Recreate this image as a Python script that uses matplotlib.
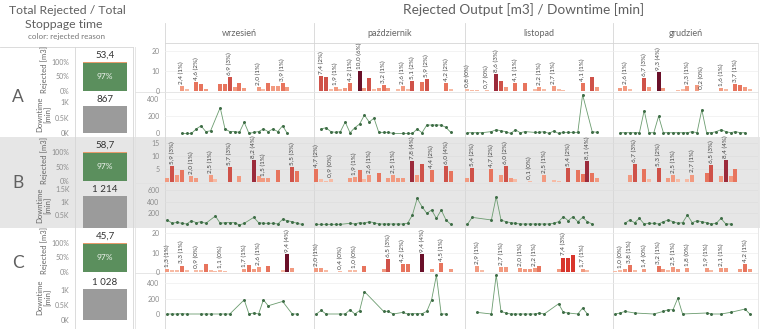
import matplotlib
matplotlib.use("Agg")
import matplotlib.pyplot as plt
from matplotlib.patches import Rectangle
from matplotlib.lines import Line2D

plt.rcParams['font.family'] = ['Lato', 'DejaVu Sans']

# ---------------------------------------------------------------- data
months = ["wrzesień", "październik", "listopad", "grudzień"]
row_names = ["A", "B", "C"]

total_rejected = [53.4, 58.7, 45.7]      # m3
main_reason_pct = [97, 97, 97]           # share of the main rejected reason
total_downtime = [867, 1214, 1028]       # min

# rejected output per day: (day, m3)
rej_A_wrz = [(4, 2.4), (5, 1.0), (7, 4.6), (8, 3.5), (9, 1.2), (12, 3.4), (13, 3.5), (14, 6.9),
             (15, 2.0), (16, 4.0), (17, 1.5), (20, 2.0), (21, 0.8), (22, 4.0), (23, 2.6), (24, 2.4),
             (25, 3.9), (26, 1.8)]
rej_A_paz = [(2, 7.4), (3, 7.0), (4, 1.0), (5, 1.9), (6, 0.8), (7, 1.5), (8, 4.2), (10, 10.0),
             (11, 1.5), (12, 6.5), (13, 1.0), (14, 1.5), (15, 3.2), (16, 1.5), (18, 1.0), (19, 2.6),
             (20, 1.0), (21, 5.1), (23, 4.5), (24, 5.9), (28, 4.2), (29, 1.0)]
rej_A_lis = [(1, 0.8), (2, 0.3), (3, 0.3), (5, 0.7), (7, 8.6), (8, 5.2), (9, 2.0), (11, 4.1),
             (13, 4.0), (15, 1.0), (16, 2.2), (17, 1.0), (19, 2.7), (20, 0.8), (21, 0.5), (25, 4.1),
             (27, 6.9), (28, 2.0)]
rej_A_gru = [(2, 1.5), (3, 2.6), (4, 1.0), (7, 6.7), (8, 2.0), (10, 9.3), (11, 1.5), (14, 0.5),
             (15, 1.0), (16, 2.3), (18, 2.8), (19, 0.2), (23, 1.6), (24, 1.0), (26, 3.7), (27, 3.0),
             (28, 2.0), (29, 1.0)]

rej_B_wrz = [(1, 1.5), (2, 5.9), (3, 2.5), (4, 4.5), (6, 2.0), (7, 1.5), (10, 2.5), (11, 1.0),
             (14, 5.7), (16, 2.0), (19, 8.2), (20, 2.0), (21, 1.5), (22, 1.5), (24, 4.5), (27, 5.5),
             (28, 4.2)]
rej_B_paz = [(1, 4.7), (2, 1.0), (3, 0.3), (4, 0.9), (8, 1.5), (9, 1.9), (10, 4.3), (11, 1.0),
             (12, 2.6), (14, 3.5), (16, 1.5), (17, 2.5), (18, 1.5), (19, 1.5), (21, 7.8), (22, 2.5),
             (23, 7.0), (25, 4.4), (28, 6.0), (29, 4.0)]
rej_B_lis = [(1, 1.5), (2, 5.4), (6, 4.7), (8, 2.5), (9, 6.0), (10, 1.5), (11, 1.0), (14, 0.1),
             (17, 2.5), (19, 0.5), (20, 0.3), (22, 5.4), (24, 4.5), (25, 3.0), (26, 8.1), (27, 3.5),
             (28, 1.5)]
rej_B_gru = [(4, 2.5), (5, 6.7), (7, 4.8), (8, 1.0), (10, 5.3), (12, 1.5), (13, 2.5), (14, 1.0),
             (16, 1.0), (17, 2.7), (20, 3.5), (21, 6.5), (23, 2.0), (24, 8.4), (25, 2.0), (26, 4.8)]

rej_C_wrz = [(1, 1.3), (2, 1.0), (3, 1.0), (4, 3.3), (5, 0.8), (7, 0.9), (8, 1.0), (9, 4.2),
             (10, 1.0), (11, 0.5), (12, 1.1), (13, 0.5), (17, 1.7), (18, 3.6), (19, 1.5), (20, 2.6),
             (22, 3.0), (25, 1.0), (26, 9.4), (27, 2.0)]
rej_C_paz = [(1, 2.0), (2, 2.0), (3, 1.0), (6, 0.4), (8, 1.0), (9, 1.0), (11, 3.0), (15, 1.5),
             (16, 6.5), (19, 4.2), (20, 4.0), (23, 9.4), (25, 1.5), (27, 4.5), (29, 1.5)]
rej_C_lis = [(3, 2.9), (4, 1.0), (8, 2.7), (9, 2.7), (12, 2.0), (13, 1.5), (14, 1.5), (15, 2.2),
             (16, 3.0), (20, 1.5), (21, 7.4), (22, 7.4), (23, 8.6), (25, 1.7), (26, 0.8)]
rej_C_gru = [(1, 0.5), (2, 1.0), (3, 1.5), (4, 3.8), (5, 1.0), (7, 1.4), (10, 3.2), (11, 1.5),
             (12, 1.0), (13, 2.5), (14, 1.5), (16, 1.8), (20, 1.9), (21, 1.0), (23, 2.1), (24, 2.0),
             (27, 1.5), (28, 4.2), (29, 1.5)]

# days whose rejects come from the separate "red" reason
red_reason_C_lis = [21, 22, 23]

# labelled days: (day, share of output in %)
lab_A_wrz = [(4, 1), (7, 2), (14, 3), (20, 1), (25, 1)]
lab_A_paz = [(2, 2), (5, 1), (8, 1), (10, 6), (15, 1), (19, 1), (21, 2), (24, 2), (28, 2)]
lab_A_lis = [(1, 0), (5, 0), (7, 3), (11, 1), (16, 1), (19, 1), (25, 1)]
lab_A_gru = [(3, 1), (7, 3), (10, 4), (16, 1), (19, 0), (23, 1), (26, 1)]
lab_B_wrz = [(2, 3), (6, 1), (10, 1), (14, 3), (19, 4), (21, 1), (27, 3)]
lab_B_paz = [(1, 2), (4, 0), (9, 1), (12, 1), (17, 1), (21, 4), (25, 2), (28, 4)]
lab_B_lis = [(2, 2), (6, 2), (9, 2), (14, 0), (17, 1), (22, 2), (26, 4)]
lab_B_gru = [(5, 3), (10, 2), (13, 1), (17, 1), (21, 3), (24, 4)]
lab_C_wrz = [(1, 1), (4, 1), (7, 0), (12, 0), (17, 1), (20, 1), (26, 4)]
lab_C_paz = [(1, 1), (6, 0), (9, 0), (16, 3), (19, 2), (23, 4), (27, 1)]
lab_C_lis = [(3, 1), (8, 1), (12, 1), (15, 1), (21, 3), (25, 1)]
lab_C_gru = [(2, 0), (4, 1), (7, 0), (10, 1), (13, 1), (16, 0), (20, 1), (23, 1), (28, 1)]

# downtime per day: (day, min)
dt_A_wrz = [(4, 0), (5, 0), (6, 0), (7, 53), (8, 89), (9, 22), (10, 31), (12, 300), (13, 53),
            (14, 22), (15, 22), (16, 13), (17, 130), (18, 0), (19, 13), (20, 22), (21, 53), (22, 22),
            (23, 53), (24, 22), (25, 90), (26, 0)]
dt_A_paz = [(2, 53), (3, 67), (4, 22), (5, 13), (6, 22), (7, 133), (8, 9), (9, 67), (10, 110),
            (11, 213), (12, 133), (13, 178), (14, 13), (15, 13), (16, 13), (17, 0), (19, 0), (20, 0),
            (21, 0), (22, 53), (23, 9), (24, 98), (25, 98), (26, 98), (27, 98), (28, 70), (29, 13)]
dt_A_lis = [(1, 9), (2, 9), (3, 9), (4, 9), (6, 22), (7, 44), (8, 31), (9, 22), (10, 0), (11, 44),
            (12, 9), (13, 22), (15, 13), (16, 13), (17, 22), (18, 0), (19, 31), (20, 0), (21, 13),
            (22, 13), (23, 13), (24, 13), (25, 450), (27, 22), (28, 13)]
dt_A_gru = [(2, 9), (3, 9), (4, 9), (5, 9), (6, 9), (7, 266), (8, 9), (9, 9), (10, 200), (11, 9),
            (12, 9), (13, 9), (14, 9), (15, 9), (16, 9), (17, 22), (18, 9), (19, 275), (20, 9),
            (21, 9), (22, 22), (23, 44), (24, 22), (25, 9), (26, 22), (27, 9), (28, 9)]

dt_B_wrz = [(1, 86), (2, 29), (3, 46), (4, 29), (5, 17), (6, 74), (7, 40), (8, 57), (9, 29),
            (11, 154), (12, 29), (13, 40), (14, 40), (15, 40), (16, 0), (17, 29), (19, 131), (20, 40),
            (21, 29), (22, 29), (23, 29), (24, 17), (25, 97), (26, 74), (27, 57), (28, 29), (29, 11)]
dt_B_paz = [(1, 11), (2, 11), (3, 11), (4, 11), (5, 11), (6, 11), (8, 29), (9, 17), (10, 40),
            (11, 29), (12, 57), (13, 40), (14, 17), (15, 17), (16, 17), (17, 17), (18, 17), (19, 17),
            (20, 29), (21, 171), (22, 457), (23, 314), (24, 200), (25, 257), (26, 114), (27, 257),
            (28, 86), (29, 11)]
dt_B_lis = [(1, 11), (2, 131), (6, 86), (7, 484), (8, 86), (9, 57), (10, 40), (11, 29), (12, 17),
            (13, 17), (14, 17), (15, 17), (16, 17), (17, 17), (18, 17), (19, 29), (20, 57), (21, 143),
            (22, 74), (23, 143), (24, 57), (25, 131), (26, 57), (27, 17)]
dt_B_gru = [(3, 29), (4, 86), (5, 40), (6, 114), (7, 17), (8, 29), (9, 29), (10, 17), (11, 57),
            (12, 86), (13, 57), (14, 29), (15, 40), (16, 171), (17, 40), (18, 74), (19, 57), (20, 40),
            (21, 17), (22, 29), (23, 114), (24, 17), (25, 17)]

dt_C_wrz = [(1, 0), (2, 0), (3, 0), (4, 4), (5, 0), (8, 0), (9, 0), (10, 0), (12, 0), (13, 0),
            (14, 0), (17, 183), (18, 0), (19, 13), (20, 0), (21, 183), (22, 106), (25, 162), (27, 0),
            (28, 0)]
dt_C_paz = [(1, 0), (2, 47), (3, 0), (6, 0), (7, 0), (8, 55), (9, 0), (10, 43), (11, 290), (15, 34),
            (16, 34), (17, 0), (19, 21), (20, 0), (21, 4), (22, 4), (23, 4), (24, 34), (25, 183),
            (26, 500), (27, 0), (28, 0)]
dt_C_lis = [(3, 21), (6, 0), (7, 503), (8, 34), (9, 13), (10, 0), (11, 0), (12, 0), (13, 0), (14, 0),
            (15, 0), (16, 13), (17, 0), (20, 132), (21, 21), (22, 13), (24, 0), (25, 77), (26, 0)]
dt_C_gru = [(1, 0), (2, 13), (3, 34), (5, 13), (9, 0), (11, 34), (12, 55), (13, 55), (14, 204),
            (15, 0), (20, 13), (21, 0), (23, 0), (25, 21), (28, 64), (29, 0)]

rej_ticks = [[0, 10, 20], [5, 10, 15], [0, 10, 20]]
dt_ticks = [[0, 200, 400], [200, 400, 600], [0, 200, 400]]
sum_dt_ticks = [[0, 500, 1000], [500, 1000, 1500], [0, 500, 1000]]

rej_tables = {"A": [rej_A_wrz, rej_A_paz, rej_A_lis, rej_A_gru],
              "B": [rej_B_wrz, rej_B_paz, rej_B_lis, rej_B_gru],
              "C": [rej_C_wrz, rej_C_paz, rej_C_lis, rej_C_gru]}
lab_tables = {"A": [lab_A_wrz, lab_A_paz, lab_A_lis, lab_A_gru],
              "B": [lab_B_wrz, lab_B_paz, lab_B_lis, lab_B_gru],
              "C": [lab_C_wrz, lab_C_paz, lab_C_lis, lab_C_gru]}
dt_tables = {"A": [dt_A_wrz, dt_A_paz, dt_A_lis, dt_A_gru],
             "B": [dt_B_wrz, dt_B_paz, dt_B_lis, dt_B_gru],
             "C": [dt_C_wrz, dt_C_paz, dt_C_lis, dt_C_gru]}
red_days = {("C", 2): red_reason_C_lis}

# ---------------------------------------------------------------- layout (pixels)
W, H = 768, 329
fig = plt.figure(figsize=(W / 100, H / 100), dpi=100)

TXT = "#606060"
TICK = "#8c8c8c"
SEP = "#d6d6d6"
GREEN = "#5b8f5d"
LINE_GREEN = "#6b9c6f"
DOT_GREEN = "#3f6e47"

month_x = [(165, 314), (314, 465), (465, 613), (613, 758)]
PX_PER_DAY = 4.8

row_geo = [
    dict(rej=(43, 92), rej_map=(0, 91, 20, 51), dt=(92, 137), dt_map=(0, 133.5, 400, 99),
         srej_map=(0, 91, 100, 62), sdt_map=(0, 133.5, 1000, 102)),
    dict(rej=(137, 183), rej_map=(0, 181.5, 15, 143), dt=(183, 228), dt_map=(0, 225, 600, 190),
         srej_map=(0, 181, 100, 152), sdt_map=(0, 228.5, 1000, 202)),
    dict(rej=(228, 273), rej_map=(0, 272, 20, 233), dt=(273, 329), dt_map=(0, 314, 400, 283),
         srej_map=(0, 272, 100, 243), sdt_map=(0, 320, 1000, 290)),
]


def fx(x):
    return x / W


def fy(y):
    return 1 - y / H


def add_ax(x0, y0, x1, y1):
    ax = fig.add_axes([fx(x0), fy(y1), (x1 - x0) / W, (y1 - y0) / H])
    ax.set_facecolor("none")
    for s in ax.spines.values():
        s.set_visible(False)
    ax.tick_params(length=0, labelsize=5, colors=TICK, pad=4)
    ax.set_xticks([])
    ax.set_yticks([])
    return ax


def fit_ylim(ax, top_px, bot_px, mapping):
    v0, p0, v1, p1 = mapping
    s = (p0 - p1) / (v1 - v0)
    ax.set_ylim(v0 - (bot_px - p0) / s, v0 + (p0 - top_px) / s)


def shade(v):
    if v < 1.2:
        return "#f7bba5"
    if v < 3.0:
        return "#f29a80"
    if v < 5.0:
        return "#e7745d"
    if v < 7.5:
        return "#cf5249"
    if v < 9.0:
        return "#9c2b3b"
    return "#6a1029"


def fmt_num(v):
    return f"{v:.1f}".replace(".", ",")


def hline(y, x0, x1, color=SEP, lw=0.6):
    fig.add_artist(Line2D([fx(x0), fx(x1)], [fy(y), fy(y)], transform=fig.transFigure,
                          color=color, lw=lw, zorder=-5))


def vline(x, y0, y1, color=SEP, lw=0.6):
    fig.add_artist(Line2D([fx(x), fx(x)], [fy(y0), fy(y1)], transform=fig.transFigure,
                          color=color, lw=lw, zorder=-5))


# grey band behind line B
fig.add_artist(Rectangle((0, fy(228)), fx(760), (228 - 137) / H, transform=fig.transFigure,
                         facecolor="#e6e6e6", edgecolor="none", zorder=-10))

# separators
hline(43, 165, 758)
for x in [165, 314, 465, 613]:
    vline(x, 23, 329)
vline(758, 43, 329, color="#e4e4e4")
for y in [92, 183, 273]:
    hline(y, 135, 758, color="#e2e2e2")
hline(47, 0, 133)
vline(75, 47, 329)
vline(133, 47, 329)
vline(135, 47, 329, color="#e2e2e2")

# titles
fig.text(fx(524), fy(10), "Rejected Output [m3] / Downtime [min]", ha="center", va="center",
         fontsize=9.8, color=TXT)
fig.text(fx(67), fy(10), "Total Rejected / Total", ha="center", va="center", fontsize=8.8,
         color=TXT)
fig.text(fx(64), fy(24.5), "Stoppage time", ha="center", va="center", fontsize=8.8, color=TXT)
fig.text(fx(67), fy(37), "color: rejected reason", ha="center", va="center", fontsize=5.8,
         color="#777777")
for m, name in enumerate(months):
    x0, x1 = month_x[m]
    fig.text(fx((x0 + x1) / 2), fy(33), name, ha="center", va="center", fontsize=6.5,
             color="#666666")

letter_y = [97, 183, 263]
for r, name in enumerate(row_names):
    fig.text(fx(18), fy(letter_y[r]), name, ha="center", va="center", fontsize=12.5, color=TXT)

# ---------------------------------------------------------------- panels
for r, row in enumerate(row_names):
    g = row_geo[r]
    rt, rb = g["rej"]
    dtp, dbp = g["dt"]
    grid_col = "#dedede" if row == "B" else "#efefef"

    for m in range(4):
        x0, x1 = month_x[m]
        xlim = (0.5, 0.5 + (x1 - x0) / PX_PER_DAY)

        # rejected bars
        ax = add_ax(x0, rt, x1, rb)
        ax.set_xlim(*xlim)
        fit_ylim(ax, rt, rb, g["rej_map"])
        bars = rej_tables[row][m]
        days = [d for d, _ in bars]
        vals = [v for _, v in bars]
        special = red_days.get((row, m), [])
        cols = ["#d8352c" if d in special else shade(v) for d, v in bars]
        ax.bar(days, vals, width=0.84, color=cols, linewidth=0, zorder=3)
        lookup = dict(bars)
        for d, pct in lab_tables[row][m]:
            v = lookup[d]
            ax.annotate(f"{fmt_num(v)} ({pct}%)", (d, v), xytext=(0, 1.5),
                        textcoords="offset points", rotation=90, ha="center", va="bottom",
                        fontsize=4.6, color="#444444", annotation_clip=False, zorder=4)
        if m == 0:
            ax.set_yticks(rej_ticks[r])
            ax.set_yticklabels([str(t) for t in rej_ticks[r]])
        for t in rej_ticks[r]:
            if t > 0:
                ax.axhline(t, color=grid_col, lw=0.5, zorder=1)

        # downtime line
        ax2 = add_ax(x0, dtp, x1, dbp)
        ax2.set_xlim(*xlim)
        fit_ylim(ax2, dtp, dbp, g["dt_map"])
        pts = dt_tables[row][m]
        ax2.plot([d for d, _ in pts], [v for _, v in pts], color=LINE_GREEN, lw=0.6,
                 marker="o", ms=1.15, mfc=DOT_GREEN, mec=DOT_GREEN, zorder=3, clip_on=False)
        if m == 0:
            ax2.set_yticks(dt_ticks[r])
            ax2.set_yticklabels([str(t) for t in dt_ticks[r]])
        for t in dt_ticks[r]:
            if t > 0:
                ax2.axhline(t, color=grid_col, lw=0.5, zorder=1)

    # ------------------------------------------------ summary column
    bx, bw = 0.517, 0.754
    sax = add_ax(75, rt, 133, rb)
    sax.set_xlim(0, 1)
    fit_ylim(sax, rt, rb, g["srej_map"])
    pct = main_reason_pct[r]
    sax.bar(bx, pct, width=bw, color=GREEN, linewidth=0)
    sax.bar(bx, 100 - pct, bottom=pct, width=bw, color="#e79a6b", linewidth=0)
    sax.text(bx, pct / 2, f"{pct}%", ha="center", va="center", fontsize=6.0, color="#eef4ee")
    sax.annotate(fmt_num(total_rejected[r]), (bx, 100), xytext=(0, 1.5), textcoords="offset points",
                 ha="center", va="bottom", fontsize=7, color="#333333", annotation_clip=False)
    sax.set_yticks([0, 50, 100])
    sax.set_yticklabels(["0%", "50%", "100%"])

    sdx = add_ax(75, dtp, 133, dbp)
    sdx.set_xlim(0, 1)
    fit_ylim(sdx, dtp, dbp, g["sdt_map"])
    sdx.bar(bx, total_downtime[r], width=bw, color="#9b9b9b", linewidth=0)
    sdx.annotate(f"{total_downtime[r]:,}".replace(",", " "), (bx, total_downtime[r]),
                 xytext=(0, 1.5), textcoords="offset points", ha="center", va="bottom",
                 fontsize=7, color="#333333", annotation_clip=False)
    sdx.set_yticks(sum_dt_ticks[r])
    sdx.set_yticklabels([("0K" if t == 0 else f"{t / 1000:g}K") for t in sum_dt_ticks[r]])

    # axis titles of the summary column
    fig.text(fx(44), fy((max(rt, 47) + rb) / 2), "Rejected [m3]", rotation=90, ha="center",
             va="center", fontsize=5.5, color="#666666")
    fig.text(fx(44), fy((dtp + min(dbp, 322)) / 2), "Downtime\n[min]", rotation=90, ha="center",
             va="center", fontsize=5.5, color="#666666", linespacing=1.1)

fig.savefig("out.png", dpi=100)
